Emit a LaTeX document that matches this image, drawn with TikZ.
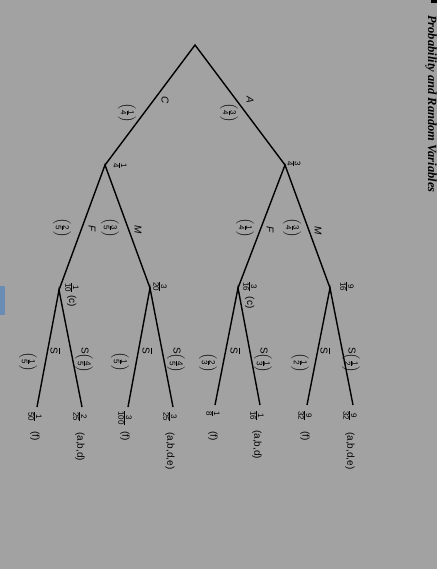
\documentclass[tikz,border=0pt]{standalone}
\usepackage{amsmath}
\usepackage{fontspec}
\setmainfont{Liberation Sans}
\newfontfamily\headfont{Liberation Serif}
\newcommand\fd[1]{\text{\fontsize{8}{8}\selectfont #1}}
\newcommand\fr[2]{$\tfrac{\fd{#1}}{\fd{#2}}$}
\newcommand\pfr[2]{$\left(\tfrac{\fd{#1}}{\fd{#2}}\right)$}
\newcommand\sbar{$\overline{\text{S}}$}
\definecolor{pagegray}{HTML}{A2A2A2}
\definecolor{tabblue}{HTML}{6A8CB4}
\begin{document}
\begin{tikzpicture}[x=1pt,y=-1pt,
  branch/.style={line width=1.4pt},
  lbl/.style={rotate=-90,inner sep=0pt,font=\fontsize{10}{11}\selectfont},
  tag/.style={lbl,anchor=west}]
\useasboundingbox (0,0) rectangle (437,569);
\fill[pagegray] (0,0) rectangle (437,569);
\clip (0,0) rectangle (437,569);
% page decorations
\fill[tabblue] (0,286) rectangle (5,315);
\fill[black] (431,0) rectangle (437,3);
\node[rotate=-90,anchor=base west,inner sep=0pt,font=\headfont\itshape\bfseries\fontsize{12.5}{13}\selectfont] (head) at (428,15) {Probability and Random Variables};
% tree points
\coordinate (root) at (195,45);
\coordinate (C) at (105,165);
\coordinate (A) at (285,165);
\coordinate (CF) at (59,290);
\coordinate (CM) at (150,288);
\coordinate (AF) at (238,288);
\coordinate (AM) at (330,288);
\coordinate (CFb) at (37,407);
\coordinate (CFs) at (82,407);
\coordinate (CMb) at (128,407);
\coordinate (CMs) at (173,407);
\coordinate (AFb) at (215,405);
\coordinate (AFs) at (260,405);
\coordinate (AMb) at (307,405);
\coordinate (AMs) at (353,405);
% branches
\draw[branch] (C) -- (root) -- (A);
\draw[branch] (CF) -- (C) -- (CM);
\draw[branch] (AF) -- (A) -- (AM);
\draw[branch] (CFb) -- (CF) -- (CFs);
\draw[branch] (CMb) -- (CM) -- (CMs);
\draw[branch] (AFb) -- (AF) -- (AFs);
\draw[branch] (AMb) -- (AM) -- (AMs);
% level 1 labels
\node[lbl] (lC) at (165,100) {\textit{C}};
\node[lbl] (pC) at (127,113) {\pfr{1}{4}};
\node[lbl] (lA) at (250,100) {\textit{A}};
\node[lbl] (pA) at (229,113) {\pfr{3}{4}};
\node[tag] (vC) at (120,162) {\fr{1}{4}};
\node[tag] (vA) at (294,160) {\fr{3}{4}};
% level 2 labels
\node[lbl] (pCF) at (62,228) {\pfr{2}{5}};
\node[lbl] (lCF) at (92,229) {\textit{F}};
\node[lbl] (pCM) at (110,228) {\pfr{3}{5}};
\node[lbl] (lCM) at (138,230) {\textit{M}};
\node[lbl] (pAF) at (245,228) {\pfr{1}{4}};
\node[lbl] (lAF) at (270,230) {\textit{F}};
\node[lbl] (pAM) at (292,228) {\pfr{3}{4}};
\node[lbl] (lAM) at (318,231) {\textit{M}};
\node[tag] (vCF) at (72,282) {\fr{1}{10}\,(c)};
\node[tag] (vCM) at (160,281) {\fr{3}{20}};
\node[tag] (vAF) at (250,281) {\fr{3}{16}\;\,(c)};
\node[tag] (vAM) at (347,281) {\fr{9}{16}};
% level 3 labels
\node[lbl] (pCFb) at (28,362) {\pfr{1}{5}};
\node[lbl] (lCFb) at (55,351) {\sbar};
\node[lbl] (lCFs) at (84,360) {S\pfr{4}{5}};
\node[lbl] (pCMb) at (120,362) {\pfr{1}{5}};
\node[lbl] (lCMb) at (147,351) {\sbar};
\node[lbl] (lCMs) at (176,360) {S\pfr{4}{5}};
\node[lbl] (pAFb) at (208,363) {\pfr{2}{3}};
\node[lbl] (lAFb) at (235,351) {\sbar};
\node[lbl] (lAFs) at (263,360) {S\pfr{1}{3}};
\node[lbl] (pAMb) at (300,363) {\pfr{1}{2}};
\node[lbl] (lAMb) at (325,351) {\sbar};
\node[lbl] (lAMs) at (351,360) {S\pfr{1}{2}};
% leaves
\node[tag] (v1) at (35,411) {\fr{1}{50}};
\node[tag] (t1) at (35,431) {(f)};
\node[tag] (v2) at (80,411) {\fr{2}{25}};
\node[tag] (t2) at (80,432) {(a,b,d)};
\node[tag] (v3) at (125,410) {\fr{3}{100}};
\node[tag] (t3) at (125,431) {(f)};
\node[tag] (v4) at (170,411) {\fr{3}{25}};
\node[tag] (t4) at (170,432) {(a,b,d,e)};
\node[tag] (v5) at (213,410) {\fr{1}{8}};
\node[tag] (t5) at (213,431) {(f)};
\node[tag] (v6) at (257,410) {\fr{1}{16}};
\node[tag] (t6) at (257,430) {(a,b,d)};
\node[tag] (v7) at (305,410) {\fr{9}{32}};
\node[tag] (t7) at (305,431) {(f)};
\node[tag] (v8) at (350,410) {\fr{9}{32}};
\node[tag] (t8) at (350,432) {(a,b,d,e)};
\end{tikzpicture}
\end{document}
